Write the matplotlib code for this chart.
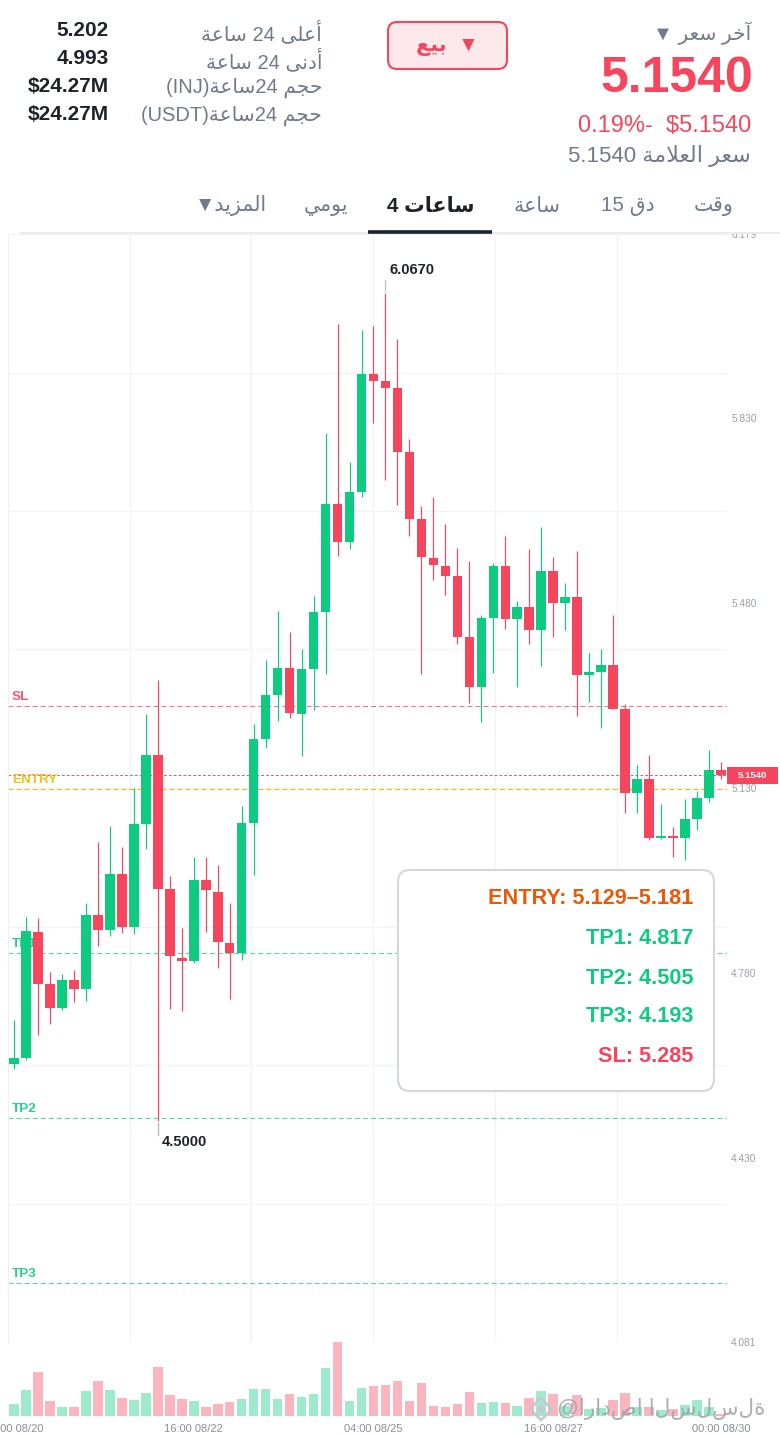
import matplotlib
matplotlib.use("Agg")
import matplotlib.pyplot as plt
from matplotlib.patches import FancyBboxPatch, Rectangle, Polygon
import numpy as np

plt.rcParams['font.family'] = ['Liberation Sans', 'DejaVu Sans']
plt.rcParams['lines.scale_dashes'] = False

# ---------------- data ----------------
opens = [4.608, 4.618, 4.858, 4.758, 4.714, 4.767, 4.750, 4.889, 4.862, 4.968,
         4.866, 5.061, 5.192, 4.938, 4.809, 4.802, 4.955, 4.934, 4.836, 4.817,
         5.063, 5.222, 5.306, 5.357, 5.270, 5.355, 5.463, 5.668, 5.596, 5.691,
         5.913, 5.901, 5.888, 5.767, 5.640, 5.566, 5.550, 5.531, 5.416, 5.321,
         5.452, 5.550, 5.450, 5.473, 5.429, 5.541, 5.480, 5.492, 5.344, 5.350,
         5.363, 5.279, 5.120, 5.147, 5.035, 5.039, 5.035, 5.071, 5.111, 5.164]
highs = [4.690, 4.885, 4.883, 4.781, 4.777, 4.785, 4.912, 5.027, 5.058, 5.018,
         5.130, 5.270, 5.334, 4.963, 4.864, 4.999, 4.999, 4.984, 4.913, 5.095,
         5.251, 5.372, 5.465, 5.425, 5.393, 5.494, 5.803, 6.009, 5.748, 5.998,
         6.005, 6.067, 5.981, 5.791, 5.664, 5.681, 5.630, 5.585, 5.560, 5.458,
         5.556, 5.607, 5.484, 5.583, 5.624, 5.568, 5.518, 5.579, 5.386, 5.393,
         5.458, 5.289, 5.173, 5.192, 5.099, 5.056, 5.109, 5.124, 5.202, 5.179]
lows = [4.597, 4.615, 4.663, 4.684, 4.709, 4.724, 4.726, 4.830, 4.849, 4.855,
        4.853, 5.014, 4.500, 4.711, 4.707, 4.798, 4.857, 4.790, 4.730, 4.805,
        4.965, 5.205, 5.257, 5.262, 5.190, 5.277, 5.346, 5.569, 5.583, 5.681,
        5.822, 5.713, 5.666, 5.607, 5.346, 5.524, 5.495, 5.403, 5.291, 5.255,
        5.348, 5.431, 5.321, 5.403, 5.361, 5.416, 5.429, 5.266, 5.293, 5.243,
        5.279, 5.082, 5.082, 5.031, 5.033, 4.999, 4.993, 5.050, 5.103, 5.147]
closes = [4.618, 4.860, 4.758, 4.714, 4.767, 4.750, 4.889, 4.862, 4.968, 4.866,
          5.061, 5.192, 4.938, 4.811, 4.802, 4.955, 4.936, 4.838, 4.817, 5.063,
          5.222, 5.306, 5.357, 5.272, 5.355, 5.463, 5.668, 5.596, 5.691, 5.913,
          5.901, 5.888, 5.767, 5.640, 5.568, 5.552, 5.531, 5.416, 5.321, 5.452,
          5.550, 5.450, 5.473, 5.429, 5.541, 5.480, 5.492, 5.344, 5.350, 5.363,
          5.279, 5.120, 5.147, 5.035, 5.040, 5.035, 5.071, 5.111, 5.164, 5.154]
volumes = [12, 26, 44, 15, 9, 9, 25, 35, 26, 18,
           16, 23, 49, 21, 17, 15, 9, 12, 14, 17,
           27, 27, 17, 22, 19, 22, 48, 74, 15, 28,
           30, 31, 35, 15, 33, 10, 9, 12, 24, 13,
           14, 13, 10, 18, 25, 22, 10, 21, 7, 8,
           16, 23, 9, 9, 6, 7, 11, 16, 9, 2]

date_tick_idx = [0, 15, 30, 45, 59]
date_tick_labels = ["00:00 08/20", "16:00 08/22", "04:00 08/25", "16:00 08/27", "00:00 08/30"]
price_ticks = [6.179, 5.830, 5.480, 5.130, 4.780, 4.430, 4.081]

entry_low, entry_high = 5.129, 5.181
tp1, tp2, tp3 = 4.817, 4.505, 4.193
sl = 5.285
last_price = 5.1540
mark_price = 5.1540
change_pct = -0.19
high_24h, low_24h = 5.202, 4.993
vol_inj, vol_usdt = "$24.27M", "$24.27M"

# ---------------- Arabic shaping helper ----------------
FORMS = {
    '\u0622': (0xFE81, 0xFE82, None, None), '\u0623': (0xFE83, 0xFE84, None, None),
    '\u0625': (0xFE87, 0xFE88, None, None), '\u0627': (0xFE8D, 0xFE8E, None, None),
    '\u0628': (0xFE8F, 0xFE90, 0xFE91, 0xFE92), '\u0629': (0xFE93, 0xFE94, None, None),
    '\u062A': (0xFE95, 0xFE96, 0xFE97, 0xFE98), '\u062B': (0xFE99, 0xFE9A, 0xFE9B, 0xFE9C),
    '\u062C': (0xFE9D, 0xFE9E, 0xFE9F, 0xFEA0), '\u062D': (0xFEA1, 0xFEA2, 0xFEA3, 0xFEA4),
    '\u062E': (0xFEA5, 0xFEA6, 0xFEA7, 0xFEA8), '\u062F': (0xFEA9, 0xFEAA, None, None),
    '\u0630': (0xFEAB, 0xFEAC, None, None), '\u0631': (0xFEAD, 0xFEAE, None, None),
    '\u0632': (0xFEAF, 0xFEB0, None, None), '\u0633': (0xFEB1, 0xFEB2, 0xFEB3, 0xFEB4),
    '\u0634': (0xFEB5, 0xFEB6, 0xFEB7, 0xFEB8), '\u0635': (0xFEB9, 0xFEBA, 0xFEBB, 0xFEBC),
    '\u0636': (0xFEBD, 0xFEBE, 0xFEBF, 0xFEC0), '\u0637': (0xFEC1, 0xFEC2, 0xFEC3, 0xFEC4),
    '\u0638': (0xFEC5, 0xFEC6, 0xFEC7, 0xFEC8), '\u0639': (0xFEC9, 0xFECA, 0xFECB, 0xFECC),
    '\u063A': (0xFECD, 0xFECE, 0xFECF, 0xFED0), '\u0641': (0xFED1, 0xFED2, 0xFED3, 0xFED4),
    '\u0642': (0xFED5, 0xFED6, 0xFED7, 0xFED8), '\u0643': (0xFED9, 0xFEDA, 0xFEDB, 0xFEDC),
    '\u0644': (0xFEDD, 0xFEDE, 0xFEDF, 0xFEE0), '\u0645': (0xFEE1, 0xFEE2, 0xFEE3, 0xFEE4),
    '\u0646': (0xFEE5, 0xFEE6, 0xFEE7, 0xFEE8), '\u0647': (0xFEE9, 0xFEEA, 0xFEEB, 0xFEEC),
    '\u0648': (0xFEED, 0xFEEE, None, None), '\u0649': (0xFEEF, 0xFEF0, None, None),
    '\u064A': (0xFEF1, 0xFEF2, 0xFEF3, 0xFEF4),
}
LAMALEF = {'\u0622': (0xFEF5, 0xFEF6), '\u0623': (0xFEF7, 0xFEF8),
           '\u0625': (0xFEF9, 0xFEFA), '\u0627': (0xFEFB, 0xFEFC)}


def shape(s):
    res = []
    prev_joins = False
    i, n = 0, len(s)
    while i < n:
        c = s[i]
        if c not in FORMS:
            res.append(c)
            prev_joins = False
            i += 1
            continue
        if c == '\u0644' and i + 1 < n and s[i + 1] in LAMALEF:
            iso, fin = LAMALEF[s[i + 1]]
            res.append(chr(fin if prev_joins else iso))
            prev_joins = False
            i += 2
            continue
        f = FORMS[c]
        dual = f[2] is not None
        next_ar = i + 1 < n and s[i + 1] in FORMS
        if prev_joins and dual and next_ar:
            form = f[3]
        elif prev_joins:
            form = f[1]
        elif dual and next_ar:
            form = f[2]
        else:
            form = f[0]
        res.append(chr(form))
        prev_joins = dual
        i += 1
    return ''.join(res)


def ar(s):
    return shape(s)[::-1]


# ---------------- figure ----------------
W, H = 780, 1434
fig = plt.figure(figsize=(W / 100, H / 100), dpi=100)
fig.patch.set_facecolor('white')

GREEN = '#0ecb81'
RED = '#f6465d'
YELLOW = '#f0b90b'
GRAY = '#707a8a'
DARK = '#1e2329'
GRID = '#f2f3f5'


def rect(x0, y0, x1, y1):
    return [x0 / W, 1 - y1 / H, (x1 - x0) / W, (y1 - y0) / H]


P_TOP, P_BOT, X_L, X_R = 234, 1342, 8, 727
ax = fig.add_axes(rect(X_L, P_TOP, X_R, P_BOT))
axv = fig.add_axes(rect(X_L, P_BOT, X_R, 1418))
ov = fig.add_axes([0, 0, 1, 1])
ov.set_xlim(0, W)
ov.set_ylim(H, 0)
ov.axis('off')
ov.patch.set_visible(False)

o = np.array(opens); h = np.array(highs); l = np.array(lows); c = np.array(closes)
n = len(o)
idx = np.arange(n)
up = c >= o
cols = np.where(up, GREEN, RED)

ax.set_xlim(-0.5, n - 0.5)
ax.set_ylim(price_ticks[-1], price_ticks[0])
ppu = (P_BOT - P_TOP) / (price_ticks[0] - price_ticks[-1])  # px per price unit
ppi = (X_R - X_L) / n                                       # px per candle

# grid
for g in np.linspace(price_ticks[-1], price_ticks[0], 9):
    ax.axhline(g, color=GRID, lw=0.9, zorder=0)
step = 121.7 / ppi
for k in range(1, 6):
    ax.axvline(-0.5 + k * step, color=GRID, lw=0.9, zorder=0)

for sp in ['top', 'right', 'bottom']:
    ax.spines[sp].set_visible(False)
ax.spines['left'].set_color('#eef0f2')
ax.set_facecolor('none')
ax.set_xticks([])
ax.yaxis.tick_right()
ax.set_yticks(price_ticks)
ax.set_yticklabels([f"{t:.3f}" for t in price_ticks])
ax.tick_params(axis='y', length=0, pad=3, labelsize=7.3, labelcolor='#9aa0a8')

# level lines
ax.axhline(sl, color=RED, lw=0.8, alpha=0.75, dashes=(3.6, 2.2), zorder=1)
ax.axhline(last_price, color='#e0455f', lw=0.7, alpha=0.9, dashes=(2.0, 1.5), zorder=1)
ax.axhline(entry_low, color=YELLOW, lw=0.8, dashes=(3.6, 2.2), zorder=1)
for tp in (tp1, tp2, tp3):
    ax.axhline(tp, color=GREEN, lw=0.8, alpha=0.7, dashes=(3.6, 2.2), zorder=1)

for name, lvl, colr in [('SL', sl, RED), ('ENTRY', entry_low, YELLOW),
                        ('TP1', tp1, GREEN), ('TP2', tp2, GREEN), ('TP3', tp3, GREEN)]:
    ax.annotate(name, xy=(0, lvl), xycoords=('axes fraction', 'data'),
                xytext=(4, 9), textcoords='offset pixels', ha='left', va='center',
                fontsize=9.7, fontweight='bold', color=colr, zorder=1, alpha=0.9)

# candles
ax.vlines(idx, l, h, colors=cols, lw=0.85, zorder=3)
body_bot = np.minimum(o, c)
body_h = np.maximum(np.abs(c - o), 2.5 / ppu)
ax.bar(idx, body_h, bottom=body_bot, width=0.8, color=cols, linewidth=0, zorder=4)

# high / low markers
hi_i = int(np.argmax(h)); lo_i = int(np.argmin(l))
hmax, lmin = h[hi_i], l[lo_i]
ax.plot([hi_i, hi_i], [hmax + 2 / ppu, hmax + 13 / ppu], color='#c5c9d0', lw=1, zorder=3)
ax.annotate(f"{hmax:.4f}", xy=(hi_i, hmax), xytext=(4, 23), textcoords='offset pixels',
            ha='left', va='center', fontsize=10.5, fontweight='bold', color=DARK, zorder=5)
ax.plot([lo_i, lo_i], [lmin - 2 / ppu, lmin - 14 / ppu], color='#b8bcc3', lw=1, zorder=3)
ax.annotate(f"{lmin:.4f}", xy=(lo_i, lmin), xytext=(4, -21), textcoords='offset pixels',
            ha='left', va='center', fontsize=10.5, fontweight='bold', color=DARK, zorder=5)

# last price tag on the right
tag_w, tag_h = 51 / ppi, 17 / ppu
ax.add_patch(Rectangle((n - 0.5, last_price - tag_h / 2), tag_w, tag_h,
                       facecolor=RED, edgecolor='none', clip_on=False, zorder=6))
ax.text(n - 0.5 + tag_w / 2, last_price, f"{last_price:.4f}", ha='center', va='center',
        fontsize=6.8, fontweight='bold', color='white', clip_on=False, zorder=7)

# volume
axv.set_xlim(-0.5, n - 0.5)
axv.set_ylim(-2, max(volumes))
axv.bar(idx, volumes, width=0.8, color=cols, alpha=0.4, linewidth=0)
for sp in axv.spines.values():
    sp.set_visible(False)
axv.set_facecolor('none')
axv.set_yticks([])
axv.set_xticks(date_tick_idx)
axv.set_xticklabels(date_tick_labels)
axv.tick_params(axis='x', length=0, pad=4, labelsize=8, labelcolor='#8a9099')

# ---------------- info box ----------------
ov.add_patch(FancyBboxPatch((398, 870), 316, 221, boxstyle='round,pad=0,rounding_size=12',
                            facecolor='white', edgecolor='#d3d6db', lw=1.5, zorder=2))
info = [(f"ENTRY: {entry_low:.3f}\u2013{entry_high:.3f}", '#e8590c', 898),
        (f"TP1: {tp1:.3f}", GREEN, 938), (f"TP2: {tp2:.3f}", GREEN, 978),
        (f"TP3: {tp3:.3f}", GREEN, 1017), (f"SL: {sl:.3f}", RED, 1056)]
for txt, colr, yy in info:
    ov.text(693, yy, txt, ha='right', va='center', fontsize=15.6, fontweight='bold',
            color=colr, zorder=3)

# ---------------- header ----------------
ov.text(751, 33, "\u25bc " + ar("آخر سعر"), ha='right', va='center', fontsize=14.5, color=GRAY)
ov.text(753, 79, f"{last_price:.4f}", ha='right', va='center', fontsize=36,
        fontweight='bold', color=RED)
ov.text(751, 126, f"{abs(change_pct):.2f}%-  ${last_price:.4f}", ha='right', va='center',
        fontsize=17, color=RED)
ov.text(751, 156, f"{mark_price:.4f} " + ar("سعر العلامة"), ha='right', va='center',
        fontsize=16, color=GRAY)

left_labels = [ar("ساعة") + " 24 " + ar("أعلى"),
               ar("ساعة") + " 24 " + ar("أدنى"),
               "(INJ)" + ar("ساعة") + "24 " + ar("حجم"),
               "(USDT)" + ar("ساعة") + "24 " + ar("حجم")]
left_values = [f"{high_24h:.3f}", f"{low_24h:.3f}", vol_inj, vol_usdt]
for yy, lab, val in zip([32, 60, 88, 116], left_labels, left_values):
    ov.text(322, yy, lab, ha='right', va='center', fontsize=14.5, color=GRAY)
    ov.text(109, yy - 1, val, ha='right', va='center', fontsize=15, fontweight='bold', color=DARK)

# sell button
ov.add_patch(FancyBboxPatch((388, 22), 119, 47, boxstyle='round,pad=0,rounding_size=9',
                            facecolor='#fde8eb', edgecolor=RED, lw=1.5))
ov.text(447, 46, ar("بيع") + "  \u25bc", ha='center', va='center', fontsize=15,
        fontweight='bold', color=RED)

# tabs
tabs = [(714, ar("وقت"), False), (628, "15 " + ar("دق"), False), (537, ar("ساعة"), False),
        (431, "4 " + ar("ساعات"), True), (326, ar("يومي"), False),
        (231, "\u25bc" + ar("المزيد"), False)]
for xx, txt, active in tabs:
    ov.text(xx, 206, txt, ha='center', va='center', fontsize=14.8,
            fontweight='bold' if active else 'normal', color=DARK if active else GRAY)
# hide upper half of the top price label behind the tab bar, like the reference
ov.add_patch(Rectangle((724, 222), 56, 11, facecolor='white', edgecolor='none', zorder=1))
ov.plot([20, 780], [233, 233], color='#eaecef', lw=1.5, solid_capstyle='butt', zorder=2)
ov.plot([368, 492], [232, 232], color=DARK, lw=2.6, solid_capstyle='butt', zorder=2)

# watermark
ov.add_patch(Polygon([[541, 1398], [552, 1409], [541, 1420], [530, 1409]], closed=True,
                     facecolor='none', edgecolor='#c4c8cd', lw=2.2, alpha=0.9))
ov.add_patch(Polygon([[541, 1404], [546, 1409], [541, 1414], [536, 1409]], closed=True,
                     facecolor='#c4c8cd', edgecolor='none', alpha=0.9))
ov.text(557, 1409, "@ارادصا السلسلة", ha='left', va='center', fontsize=15.5,
        color='#9ea2a8', alpha=0.85)

fig.savefig("out.png", dpi=100)
